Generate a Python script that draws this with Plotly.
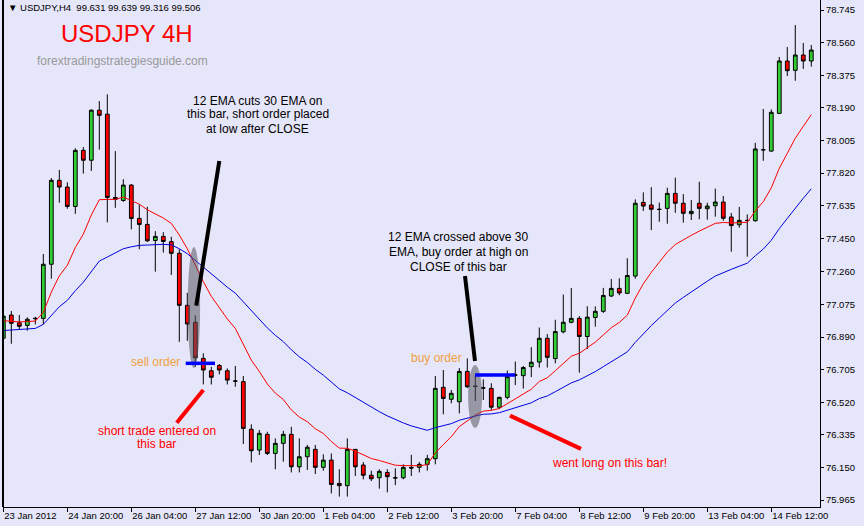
import plotly.graph_objects as go

# ---------------- data ----------------
bars = list(range(102))

opens = [76.883, 77.015, 76.971, 76.956, 76.994, 76.996, 77.303, 77.779, 77.741, 77.631,
         77.949, 77.893, 78.177, 78.154, 77.682, 77.665, 77.752, 77.563, 77.529, 77.438,
         77.461, 77.431, 77.365, 77.070, 76.974, 76.769, 76.699, 76.729, 76.699, 76.641,
         76.637, 76.367, 76.249, 76.338, 76.230, 76.287, 76.338, 76.154, 76.211, 76.253,
         76.151, 76.192, 76.060, 76.047, 76.253, 76.164, 76.106, 76.092, 76.122, 76.092,
         76.092, 76.151, 76.151, 76.168, 76.200, 76.605, 76.537, 76.523, 76.695, 76.612,
         76.602, 76.599, 76.492, 76.548, 76.675, 76.671, 76.722, 76.748, 76.883, 76.768,
         76.920, 76.974, 76.996, 76.893, 77.001, 77.036, 77.123, 77.166, 77.138, 77.236,
         77.654, 77.639, 77.615, 77.620, 77.705, 77.649, 77.590, 77.649, 77.618, 77.635,
         77.656, 77.571, 77.527, 77.552, 77.550, 77.953, 77.945, 78.159, 78.456, 78.403,
         78.490, 78.456]

highs = [77.009, 77.038, 77.015, 77.002, 77.005, 77.361, 77.792, 77.838, 77.768, 77.961,
         77.968, 78.181, 78.229, 78.267, 77.945, 77.785, 77.758, 77.643, 77.629, 77.491,
         77.485, 77.459, 77.388, 77.141, 77.013, 76.798, 76.721, 76.737, 76.712, 76.726,
         76.669, 76.395, 76.363, 76.353, 76.315, 76.358, 76.381, 76.315, 76.278, 76.278,
         76.225, 76.230, 76.140, 76.315, 76.255, 76.181, 76.132, 76.140, 76.140, 76.145,
         76.168, 76.222, 76.181, 76.222, 76.669, 76.703, 76.590, 76.714, 76.769, 76.673,
         76.650, 76.628, 76.552, 76.700, 76.751, 76.726, 76.833, 76.944, 76.907, 76.988,
         77.131, 77.168, 77.009, 77.065, 77.064, 77.169, 77.219, 77.223, 77.337, 77.671,
         77.711, 77.740, 77.653, 77.737, 77.794, 77.701, 77.667, 77.771, 77.652, 77.732,
         77.690, 77.594, 77.628, 77.586, 77.992, 78.184, 78.182, 78.479, 78.535, 78.660,
         78.558, 78.547]

lows = [76.835, 76.852, 76.930, 76.926, 76.962, 76.962, 77.221, 77.652, 77.618, 77.589,
        77.817, 77.832, 77.953, 77.541, 77.623, 77.657, 77.501, 77.388, 77.430, 77.261,
        77.369, 77.242, 76.863, 76.869, 76.721, 76.621, 76.621, 76.678, 76.621, 76.608,
        76.283, 76.179, 76.221, 76.221, 76.140, 76.183, 76.122, 76.122, 76.136, 76.113,
        76.132, 76.003, 75.985, 75.985, 76.102, 76.083, 76.073, 76.030, 76.009, 76.050,
        76.083, 76.102, 76.122, 76.132, 76.168, 76.452, 76.514, 76.457, 76.601, 76.527,
        76.533, 76.476, 76.481, 76.537, 76.618, 76.598, 76.663, 76.717, 76.717, 76.741,
        76.911, 76.968, 76.688, 76.822, 76.949, 77.027, 77.117, 77.127, 77.134, 77.221,
        77.605, 77.497, 77.544, 77.533, 77.595, 77.539, 77.554, 77.558, 77.556, 77.573,
        77.550, 77.374, 77.510, 77.346, 77.544, 77.890, 77.941, 78.155, 78.371, 78.344,
        78.411, 78.424]

closes = [77.009, 76.968, 76.951, 76.991, 76.996, 77.303, 77.779, 77.741, 77.631, 77.949,
          77.893, 78.177, 78.148, 77.682, 77.671, 77.752, 77.563, 77.529, 77.436, 77.461,
          77.432, 77.365, 77.070, 76.964, 76.772, 76.703, 76.662, 76.703, 76.646, 76.640,
          76.372, 76.245, 76.344, 76.230, 76.287, 76.338, 76.154, 76.211, 76.265, 76.151,
          76.192, 76.054, 76.047, 76.253, 76.154, 76.106, 76.086, 76.128, 76.098, 76.091,
          76.151, 76.147, 76.168, 76.200, 76.599, 76.542, 76.571, 76.695, 76.608, 76.610,
          76.601, 76.492, 76.548, 76.665, 76.674, 76.717, 76.747, 76.883, 76.775, 76.921,
          76.974, 76.996, 76.893, 77.003, 77.036, 77.126, 77.166, 77.140, 77.239, 77.649,
          77.633, 77.615, 77.614, 77.705, 77.649, 77.592, 77.603, 77.620, 77.633, 77.656,
          77.564, 77.522, 77.552, 77.551, 77.957, 77.952, 78.165, 78.456, 78.401, 78.490,
          78.456, 78.518]

ema12 = [76.983, 76.980, 76.976, 76.978, 76.981, 77.030, 77.145, 77.237, 77.297, 77.398,
         77.474, 77.582, 77.669, 77.671, 77.671, 77.684, 77.665, 77.644, 77.612, 77.589,
         77.565, 77.535, 77.469, 77.391, 77.296, 77.205, 77.121, 77.057, 76.993, 76.939,
         76.852, 76.759, 76.695, 76.624, 76.572, 76.536, 76.477, 76.436, 76.410, 76.370,
         76.343, 76.298, 76.260, 76.259, 76.243, 76.222, 76.201, 76.190, 76.175, 76.163,
         76.161, 76.159, 76.160, 76.166, 76.233, 76.280, 76.325, 76.382, 76.417, 76.447,
         76.470, 76.474, 76.485, 76.513, 76.538, 76.566, 76.594, 76.638, 76.659, 76.699,
         76.742, 76.781, 76.798, 76.830, 76.861, 76.902, 76.943, 76.973, 77.014, 77.111,
         77.192, 77.257, 77.312, 77.372, 77.415, 77.442, 77.467, 77.491, 77.513, 77.535,
         77.540, 77.537, 77.539, 77.541, 77.605, 77.658, 77.736, 77.847, 77.932, 78.018,
         78.085, 78.152]

ema30 = [76.927, 76.930, 76.931, 76.935, 76.939, 76.962, 77.015, 77.062, 77.098, 77.153,
         77.201, 77.264, 77.321, 77.344, 77.366, 77.391, 77.402, 77.410, 77.412, 77.415,
         77.416, 77.413, 77.391, 77.363, 77.325, 77.285, 77.245, 77.210, 77.173, 77.139,
         77.090, 77.035, 76.991, 76.942, 76.900, 76.864, 76.818, 76.778, 76.746, 76.707,
         76.674, 76.634, 76.596, 76.574, 76.546, 76.518, 76.490, 76.467, 76.443, 76.421,
         76.403, 76.386, 76.372, 76.361, 76.376, 76.387, 76.399, 76.418, 76.431, 76.442,
         76.452, 76.454, 76.461, 76.474, 76.487, 76.502, 76.517, 76.541, 76.556, 76.580,
         76.605, 76.630, 76.647, 76.670, 76.694, 76.722, 76.751, 76.776, 76.806, 76.860,
         76.910, 76.955, 76.998, 77.043, 77.083, 77.115, 77.147, 77.178, 77.207, 77.236,
         77.257, 77.274, 77.292, 77.309, 77.351, 77.389, 77.439, 77.505, 77.563, 77.623,
         77.677, 77.731]

date_tick_bars = [0, 8, 16, 24, 32, 40, 48, 56, 64, 72, 80, 88, 96]
date_tick_labels = ["23 Jan 2012", "24 Jan 20:00", "26 Jan 04:00", "27 Jan 12:00",
                    "30 Jan 20:00", "1 Feb 04:00", "2 Feb 12:00", "3 Feb 20:00",
                    "7 Feb 04:00", "8 Feb 12:00", "9 Feb 20:00", "13 Feb 04:00",
                    "14 Feb 12:00"]

price_ticks = [75.965, 76.150, 76.335, 76.520, 76.705, 76.890, 77.075, 77.260,
               77.450, 77.635, 77.820, 78.005, 78.190, 78.375, 78.560, 78.745]

# ---------------- figure ----------------
BG = "#E6E6FA"
FONT = "Liberation Sans, Arial, sans-serif"

fig = go.Figure()

fig.add_trace(go.Candlestick(
    x=bars, open=opens, high=highs, low=lows, close=closes,
    increasing=dict(line=dict(color="black", width=1), fillcolor="#32CD32"),
    decreasing=dict(line=dict(color="black", width=1), fillcolor="#FF0000"),
    hoverinfo="skip", showlegend=False,
))
fig.add_trace(go.Scatter(x=bars, y=ema12, mode="lines",
                         line=dict(color="#FF0000", width=1), hoverinfo="skip"))
fig.add_trace(go.Scatter(x=bars, y=ema30, mode="lines",
                         line=dict(color="#0000DD", width=1), hoverinfo="skip"))

shapes = [
    # left chart border
    dict(type="line", xref="paper", yref="paper", x0=0, x1=0, y0=0, y1=1,
         line=dict(color="black", width=2)),
    # shaded ellipses on the signal bars
    dict(type="circle", xref="x", yref="y", x0=23.05, x1=24.6, y0=76.714, y1=77.401,
         fillcolor="rgba(85,85,95,0.55)", line=dict(width=0), layer="above"),
    dict(type="circle", xref="x", yref="y", x0=58.1, x1=59.84, y0=76.374, y1=76.731,
         fillcolor="rgba(85,85,95,0.55)", line=dict(width=0), layer="above"),
    # black pointer lines
    dict(type="line", xref="x", yref="y", x0=27.0, y0=77.889, x1=24.12, y1=77.068,
         line=dict(color="black", width=4)),
    dict(type="line", xref="x", yref="y", x0=57.71, y0=77.236, x1=58.96, y1=76.754,
         line=dict(color="black", width=4)),
    # red pointer lines
    dict(type="line", xref="x", yref="y", x0=25.0, y0=76.590, x1=21.68, y1=76.404,
         line=dict(color="#FF0000", width=4)),
    dict(type="line", xref="x", yref="y", x0=63.34, y0=76.444, x1=72.21, y1=76.256,
         line=dict(color="#FF0000", width=4)),
    # blue order levels
    dict(type="line", xref="x", yref="y", x0=22.8, y0=76.741, x1=26.46, y1=76.741,
         line=dict(color="#0000FF", width=3.5)),
    dict(type="line", xref="x", yref="y", x0=58.96, y0=76.675, x1=63.96, y1=76.675,
         line=dict(color="#0000FF", width=3.5)),
]

def ann(x, y, text, color="black", size=12, xanchor="center"):
    return dict(x=x, y=y, xref="x", yref="y", text=text, showarrow=False,
                xanchor=xanchor, yanchor="middle",
                font=dict(family=FONT, size=size, color=color))

annotations = [
    dict(x=0.0, y=1.0, xref="paper", yref="paper", xanchor="left", yanchor="top",
         xshift=3, yshift=0,
         text="▼ USDJPY,H4\u00a0\u00a099.631 99.639 99.316 99.506", showarrow=False,
         font=dict(family=FONT, size=9.5, color="black")),
    ann(15.4, 78.612, "USDJPY 4H", color="#FF0000", size=24),
    ann(14.9, 78.456, "forextradingstrategiesguide.com", color="#999999", size=12),
    ann(31.78, 78.231, "12 EMA cuts 30 EMA on"),
    ann(31.78, 78.154, "this bar, short order placed"),
    ann(31.78, 78.072, "at low after CLOSE"),
    ann(56.84, 77.456, "12 EMA crossed above 30"),
    ann(56.84, 77.374, "EMA, buy order at high on"),
    ann(56.84, 77.289, "CLOSE of this bar"),
    ann(22.34, 76.748, "sell order", color="#F0A040", xanchor="right"),
    ann(57.59, 76.771, "buy order", color="#F0A040", xanchor="right"),
    ann(19.15, 76.359, "short trade entered on", color="#FF0000"),
    ann(19.15, 76.282, "this bar", color="#FF0000"),
    ann(75.78, 76.177, "went long on this bar!", color="#FF0000"),
]

fig.update_layout(
    width=864, height=526,
    margin=dict(l=3, r=44, t=0, b=19, autoexpand=False),
    paper_bgcolor=BG, plot_bgcolor=BG,
    showlegend=False,
    boxgap=0.33,
    shapes=shapes,
    annotations=annotations,
    font=dict(family=FONT, size=9.5, color="black"),
)
fig.update_xaxes(
    range=[-0.04, 102.09],
    tickmode="array", tickvals=date_tick_bars, ticktext=date_tick_labels,
    ticks="outside", ticklen=4, tickcolor="black", tickwidth=1,
    ticklabelposition="outside right", tickangle=0, automargin=False,
    tickfont=dict(family=FONT, size=9.5, color="black"),
    showline=True, linecolor="black", linewidth=1,
    showgrid=False, zeroline=False,
    rangeslider=dict(visible=False),
)
fig.update_yaxes(
    side="right", automargin=False,
    range=[75.926, 78.802],
    tickmode="array", tickvals=price_ticks, ticktext=[f"{v:.3f}" for v in price_ticks],
    ticks="outside", ticklen=3, tickcolor="black", tickwidth=1,
    tickfont=dict(family=FONT, size=9.5, color="black"),
    showline=True, linecolor="black", linewidth=1,
    showgrid=False, zeroline=False,
)

fig.write_html("out.html")
